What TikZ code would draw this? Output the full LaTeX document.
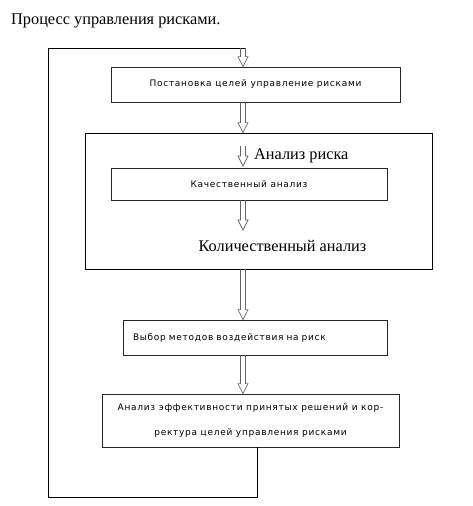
\documentclass[tikz,border=0pt]{standalone}
\usepackage{fontspec}
\setmainfont{Liberation Serif}
\newfontfamily\boxfont[LetterSpace=8]{DejaVu Sans}
\usetikzlibrary{calc}

\begin{document}
\begin{tikzpicture}[x=1pt, y=-1pt,
    % --- Styles ---
    stageBox/.style={
      draw=black!85,
      line width=0.8pt,
      rectangle,
      inner sep=0pt,
      font=\boxfont\fontsize{9}{11}\selectfont,
      align=center
    },
    frameBox/.style={
      draw=black,
      line width=0.8pt,
      rectangle,
      inner sep=0pt
    },
    serifText/.style={
      inner sep=0pt,
      font=\fontsize{16.3}{18}\selectfont
    },
    hollowArrow/.style={
      draw=black!60,
      line width=0.7pt,
      to path={
        let \p1=(\tikztostart), \p2=(\tikztotarget) in
        (\x1-2.5pt,\y1) -- (\x1-2.5pt,\y2+10pt) -- (\x1-5pt,\y2+10pt)
        -- (\x1,\y2) -- (\x1+5pt,\y2+10pt) -- (\x1+2.5pt,\y2+10pt)
        -- (\x1+2.5pt,\y1)
      }
    },
    loopLine/.style={
      draw=black,
      line width=0.9pt
    }
]
\useasboundingbox (0,0) rectangle (472,506);

%=====================
% Title
%=====================
\node[serifText, anchor=west] (title) at (11,21) {Процесс управления рисками.};

%=====================
% Stages
%=====================
\node[stageBox, minimum width=289pt, minimum height=35pt] (goals) at (255.5,84.5)
  {Постановка целей управление рисками};
\node[frameBox, minimum width=347pt, minimum height=136pt] (analysis) at (258.5,201) {};
\node[stageBox, minimum width=276pt, minimum height=32pt] (quality) at (249,184)
  {Качественный анализ};
\node[stageBox, minimum width=264pt, minimum height=35pt, text width=244pt,
  inner xsep=10pt, align=left] (methods) at (255,337.5)
  {Выбор методов воздействия на риск};
\node[stageBox, minimum width=297pt, minimum height=53pt,
  font=\boxfont\fontsize{9}{25}\selectfont] (efficiency) at (250.5,420.5)
  {Анализ эффективности принятых решений и кор-\\ректура целей управления рисками};

%=====================
% Labels inside the analysis frame
%=====================
\node[serifText, anchor=west] (riskLbl) at (254,156) {Анализ риска};
\node[serifText] (quantity) at (282.5,246) {Количественный анализ};
\coordinate (riskTop) at (243,146);
\coordinate (riskEnd) at (243,166);
\coordinate (quantEnd) at (243,230);

%=====================
% Feedback loop
%=====================
\coordinate (loopDown) at (257,497);
\coordinate (loopLeft) at (48,497);
\coordinate (loopTop) at (245.5,48);
\coordinate (loopIn) at (243,48);
\draw[loopLine] (efficiency.south -| loopDown) -- (loopDown) -- (loopLeft) |- (loopTop);

%=====================
% Hollow arrows
%=====================
\draw[hollowArrow] (loopIn) to (goals.north -| loopIn);
\draw[hollowArrow] (goals.south -| loopIn) to (analysis.north -| loopIn);
\draw[hollowArrow] (riskTop) to (riskEnd);
\draw[hollowArrow] (quality.south -| loopIn) to (quantEnd);
\draw[hollowArrow] (analysis.south -| loopIn) to (methods.north -| loopIn);
\draw[hollowArrow] (methods.south -| loopIn) to (efficiency.north -| loopIn);

\end{tikzpicture}
\end{document}
